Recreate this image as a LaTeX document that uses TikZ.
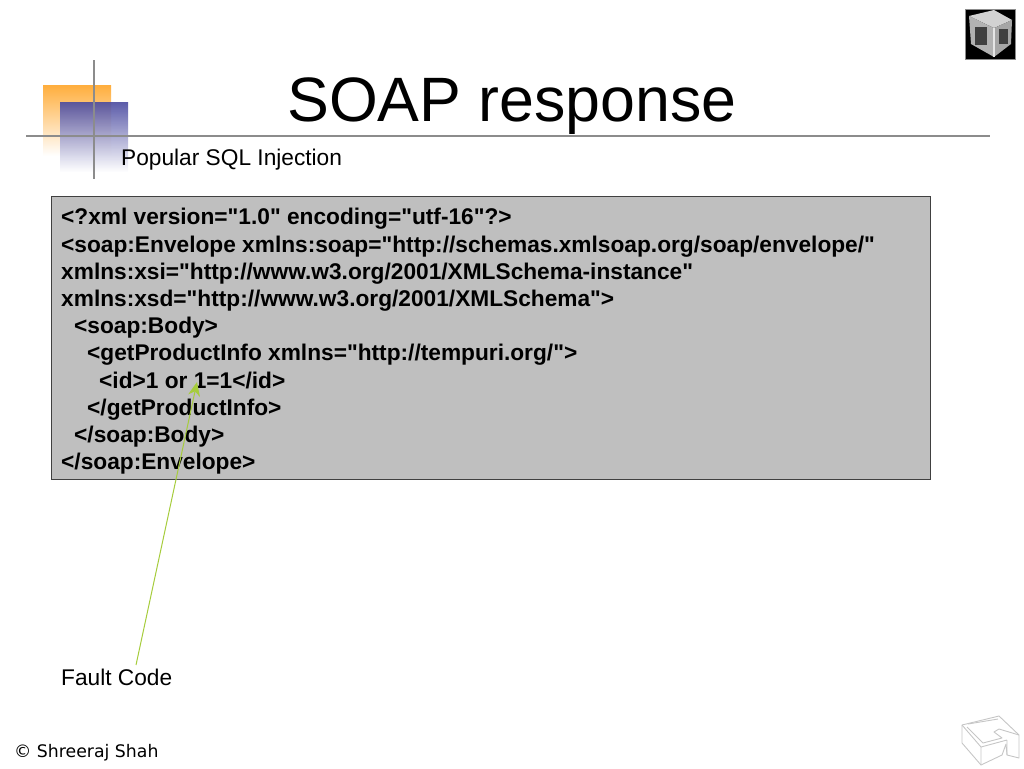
\documentclass[tikz,border=0pt]{standalone}
\usepackage{fontspec}
\setmainfont{Liberation Sans}
\newfontfamily\copyfont{DejaVu Sans}
\newfontfamily\xmlfont{Liberation Sans}
\usetikzlibrary{arrows.meta}
\definecolor{rulegrey}{HTML}{8C8C8C}
\definecolor{boxgrey}{HTML}{BFBFBF}
\definecolor{boxedge}{HTML}{404040}
\definecolor{leadgreen}{HTML}{A6CC3C}
\definecolor{sqorange}{HTML}{FFAE3D}
\definecolor{sqblue}{HTML}{4A4AA0}
\tikzset{
  x=1pt,y=-1pt,
  rulestyle/.style={draw=rulegrey,line width=1.1pt},
  titletext/.style={inner sep=0pt,anchor=base,font=\fontsize{62.7}{70}\selectfont},
  bodytext/.style={inner sep=0pt,anchor=base west,font=\fontsize{22.7}{27}\selectfont},
  xmlline/.style={inner sep=0pt,anchor=base west,font=\xmlfont\fontsize{22.7}{27}\bfseries\selectfont},
  leader/.style={draw=leadgreen,line width=1pt,-{Stealth[length=14pt,width=12pt]}},
  iconline/.style={draw=gray!45!white,line width=0.9pt,line join=round},
}
\begin{document}
\begin{tikzpicture}
\useasboundingbox (0,0) rectangle (1024,768);
% decorative squares
\shade[top color=sqorange,bottom color=white] (43,85) rectangle (111,156);
\shade[top color=sqblue,bottom color=white,fill opacity=0.9] (60,102) rectangle (128,172);
\draw[rulestyle] (26,136) -- (990,136);
\draw[rulestyle] (94,60) -- (94,179);
\node[titletext] (title) at (512,121) {SOAP response};
\node[bodytext] (sub) at (121,165) {Popular SQL Injection};
% xml box
\node[draw=boxedge,fill=boxgrey,line width=0.8pt,inner sep=0pt,anchor=north west,minimum width=879pt,minimum height=283pt] (xmlbox) at (51,196) {};
\node[xmlline] (l1) at (61,224) {<?xml version="1.0" encoding="utf-16"?>};
\node[xmlline] (l2) at (61,252) {<soap:Envelope xmlns:soap="http://schemas.xmlsoap.org/soap/envelope/"};
\node[xmlline] (l3) at (61,279) {xmlns:xsi="http://www.w3.org/2001/XMLSchema-instance"};
\node[xmlline] (l4) at (61,306) {xmlns:xsd="http://www.w3.org/2001/XMLSchema">};
\node[xmlline] (l5) at (74,333) {<soap:Body>};
\node[xmlline] (l6) at (87,360) {<getProductInfo xmlns="http://tempuri.org/">};
\node[xmlline] (l7) at (99,388) {<id>1 or 1=1</id>};
\node[xmlline] (l8) at (87,415) {</getProductInfo>};
\node[xmlline] (l9) at (74,442) {</soap:Body>};
\node[xmlline] (l10) at (61,469) {</soap:Envelope>};
\node[bodytext] (fault) at (61,685) {Fault Code};
\coordinate (tip) at (197,382);
\coordinate (tail) at (136,665);
\draw[leader] (tail) -- (tip);
\node[inner sep=0pt,anchor=base west,font=\copyfont\fontsize{17.3}{20}\selectfont] (copy) at (14,757) {© Shreeraj Shah};
% top-right logo
\fill[black] (965,9) rectangle (1015,59);
\draw[rulegrey,line width=0.5pt] (965,9) rectangle (1015,59);
\fill[gray!35!white] (969,16) -- (994,10) -- (1012,20) -- (994,28) -- cycle;
\fill[gray!60!white] (969,16) -- (994,28) -- (994,57) -- (971,44) -- cycle;
\fill[gray!70!white] (994,28) -- (1012,20) -- (1011,44) -- (994,57) -- cycle;
\fill[black!75] (975,27) rectangle (987,45);
\fill[black!75] (999,29) rectangle (1008,44);
\draw[gray!20!white,line width=2.5pt] (994,28) -- (994,57);
% bottom-right icon
\draw[iconline] (962,725) -- (999,716) -- (1019,735) -- (1019,758) -- (1007,755) -- (1006,744) -- (1002,755) -- (981,765) -- (962,743) -- cycle;
\draw[iconline] (962,725) -- (981,747) -- (1007,740) (981,747) -- (981,765) (1007,740) -- (1007,755)
  (967,727) -- (983,743) -- (1002,738) -- (994,732) -- (999,729) -- (1019,735) (968,724) -- (998,719);
\end{tikzpicture}
\end{document}
